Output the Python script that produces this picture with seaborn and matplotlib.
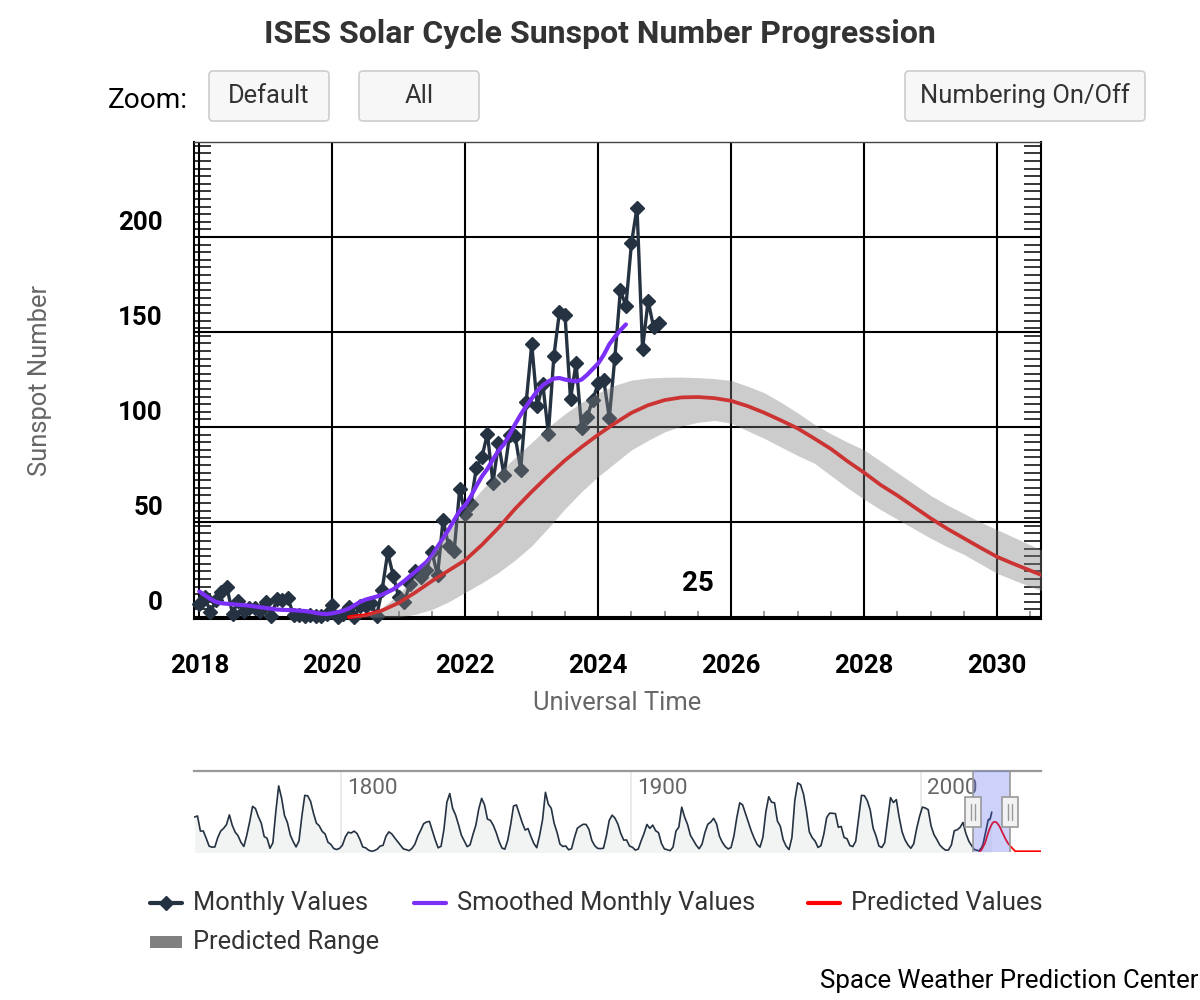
"""ISES Solar Cycle Sunspot Number Progression (SWPC 風のチャート)."""

import matplotlib

matplotlib.use("Agg")

import matplotlib.pyplot as plt
import numpy as np
import pandas as pd
import seaborn as sns
from matplotlib.patches import FancyBboxPatch, Rectangle
from matplotlib.ticker import MultipleLocator

# 月平均黒点数 2018-01 .. 2024-12
monthly_values = [
    6.8, 10.7, 2.5, 8.9, 13.1, 15.6, 1.6, 8.7, 3.3, 4.9, 4.9, 3.1,
    7.7, 0.8, 9.4, 9.1, 9.9, 1.2, 0.9, 0.5, 1.1, 0.4, 0.5, 1.5,
    6.2, 0.2, 1.5, 5.2, 0.2, 5.8, 6.1, 7.5, 0.6, 14.4, 34.0, 21.8,
    10.4, 8.2, 17.2, 24.5, 21.2, 25.0, 34.3, 22.0, 51.3, 37.4, 34.8, 67.5,
    54.0, 59.7, 78.5, 84.1, 96.5, 70.5, 91.4, 74.6, 96.0, 95.5, 77.6, 113.1,
    143.6, 110.9, 122.6, 96.4, 137.4, 160.5, 159.1, 114.8, 133.6, 99.4, 105.4, 114.2,
    123.0, 124.7, 104.9, 136.5, 172.0, 163.6, 196.8, 215.5, 141.1, 166.4, 152.5, 154.5,
]

# 13ヶ月平滑値 2018-01 .. 2024-06
smoothed_values = [
    13.5, 11.5, 9.5, 8.0, 7.3, 7.0, 6.8, 6.5, 6.3, 6.0, 5.6, 5.2,
    4.8, 4.4, 4.0, 3.8, 3.7, 3.6, 3.4, 3.2, 2.8, 2.2, 1.8, 1.6,
    2.0, 2.6, 3.4, 4.5, 6.2, 8.0, 9.2, 10.0, 10.8, 11.8, 13.2, 14.6,
    16.8, 19.0, 21.5, 23.9, 26.5, 29.0, 32.5, 37.0, 41.5, 46.0, 51.0, 56.0,
    59.0, 63.5, 69.0, 74.0, 78.0, 83.0, 87.5, 91.0, 96.0, 101.5, 106.5, 111.0,
    115.0, 119.0, 122.0, 124.0, 125.5, 125.8, 125.0, 124.5, 124.0, 125.0, 127.5, 130.5,
    133.5, 138.0, 143.5, 147.5, 151.0, 154.0,
]

# 予測値と予測レンジ（四半期ごと 2020-04 .. 2030-10）
predicted_values = [
    0.0, 1.0, 3.5,
    7.5, 13.0, 19.0, 24.5,
    30.0, 38.0, 47.0, 57.0,
    66.0, 74.5, 82.5, 89.5,
    96.0, 102.0, 107.5, 111.5,
    114.2, 115.6, 115.8, 115.2,
    113.8, 111.0, 107.5, 103.5,
    99.3, 94.0, 88.5, 82.0,
    76.0, 69.5, 64.0, 58.0,
    52.0, 46.5, 41.5, 36.5,
    31.7, 28.0, 24.5, 21.0,
]
predicted_high = [
    0.5, 1.5, 5.0,
    12.0, 22.0, 33.0, 45.0,
    57.0, 67.0, 76.0, 84.0,
    92.0, 100.0, 107.0, 113.0,
    118.0, 122.0, 124.7, 125.8,
    126.2, 126.3, 126.0, 125.5,
    124.5, 121.5, 118.0, 113.0,
    107.5, 101.5, 96.5, 92.0,
    88.0, 82.0, 76.0, 70.0,
    64.0, 59.0, 54.5, 50.0,
    46.0, 42.0, 38.0, 34.0,
]
predicted_low = [
    0.0, 0.0, 0.0,
    0.0, 1.5, 4.0, 8.0,
    13.0, 18.0, 23.5, 30.0,
    37.5, 47.0, 57.0, 66.0,
    74.0, 81.0, 88.0, 93.0,
    97.5, 100.5, 102.5, 103.5,
    102.0, 98.0, 94.0, 89.5,
    85.0, 81.0, 74.5, 68.0,
    62.0, 56.5, 51.5, 46.5,
    41.5, 37.0, 33.0, 28.0,
    23.0, 19.5, 16.0, 13.0,
]

# ナビゲーター用の年平均黒点数 1749 .. 2017
history_yearly = [
    134.7, 139.0, 79.5, 79.7, 51.2, 20.3, 16.0, 17.0, 54.0, 79.3,
    90.0, 104.8, 143.2, 102.0, 75.2, 60.7, 34.8, 19.0, 63.0, 116.3,
    176.8, 168.0, 136.0, 110.8, 58.0, 51.0, 11.7, 33.0, 154.2, 257.3,
    209.8, 141.3, 113.5, 64.2, 38.0, 17.0, 40.2, 138.2, 220.0, 218.2,
    196.8, 149.8, 111.0, 100.0, 78.2, 68.3, 35.5, 26.7, 10.7, 6.8,
    11.3, 24.2, 56.7, 75.0, 71.8, 79.2, 70.3, 46.8, 16.8, 13.5,
    4.2, 0.0, 2.3, 8.3, 20.3, 23.2, 59.0, 76.3, 68.3, 52.9,
    38.5, 24.2, 9.2, 6.3, 2.2, 11.4, 28.2, 59.9, 83.0, 108.5,
    115.2, 117.4, 80.8, 44.3, 13.4, 19.5, 85.8, 192.7, 227.3, 168.7,
    143.0, 105.5, 63.3, 40.3, 18.1, 25.1, 65.8, 102.7, 166.3, 208.3,
    182.5, 126.3, 122.0, 102.7, 74.1, 39.0, 12.7, 8.2, 43.4, 104.4,
    178.3, 182.2, 146.6, 112.1, 83.5, 89.2, 57.8, 30.7, 13.9, 62.8,
    123.6, 232.0, 185.3, 169.2, 110.1, 74.5, 28.3, 18.9, 20.7, 5.7,
    10.0, 53.7, 90.5, 99.0, 106.1, 105.8, 86.3, 42.4, 21.8, 11.2,
    10.4, 11.8, 59.5, 121.7, 142.0, 130.0, 106.6, 69.4, 43.8, 44.4,
    20.2, 15.7, 4.6, 8.5, 40.8, 70.1, 105.5, 90.1, 102.8, 80.9,
    73.2, 30.9, 9.5, 6.0, 2.4, 16.1, 79.0, 95.0, 173.6, 134.6,
    105.7, 62.7, 43.5, 23.7, 9.7, 27.9, 74.0, 106.5, 114.7, 129.7,
    108.2, 59.4, 35.1, 18.6, 9.2, 14.6, 60.2, 132.8, 190.6, 182.6,
    148.0, 113.0, 79.2, 50.8, 27.1, 16.1, 55.3, 154.3, 214.7, 193.0,
    190.7, 118.9, 98.3, 45.0, 20.1, 6.6, 54.2, 200.7, 269.3, 261.7,
    225.1, 159.0, 76.4, 53.4, 39.9, 15.0, 22.0, 66.8, 132.9, 150.0,
    149.4, 148.0, 94.4, 97.6, 54.1, 49.2, 22.5, 18.4, 39.3, 131.0,
    220.1, 218.9, 198.9, 162.4, 91.0, 60.5, 20.6, 14.8, 33.9, 123.0,
    211.1, 191.8, 203.3, 133.0, 76.1, 44.9, 25.1, 11.6, 28.9, 88.3,
    136.3, 173.9, 170.4, 163.6, 99.3, 65.3, 45.8, 24.7, 12.6, 4.2,
    4.8, 24.9, 80.8, 84.5, 94.0, 113.3, 69.8, 39.8, 21.7,
]
# ナビゲーター右端の予測の続き（ほぼゼロ）
nav_tail_years = [2032.5, 2041.5]
nav_tail_values = [0.0, 0.0]

x_ticks = [2018, 2020, 2022, 2024, 2026, 2028, 2030]
y_ticks = [0, 50, 100, 150, 200]
nav_labels = [1800, 1900, 2000]
x_range = (2017.92, 2030.66)

DARK = "#253241"
PURPLE = "#7b2ff7"
RED = "#ff0000"
RANGE = "#808080"
TEXT = "#333333"
W, H = 1200, 1000
FS = 18.4  # 本文テキストのサイズ


def decimal_year(dates):
    return dates.year + (dates.month - 1) / 12


def box(left, top, right, bottom):
    """ピクセル座標 -> figure 座標の [l, b, w, h]."""
    return [left / W, 1 - bottom / H, (right - left) / W, (bottom - top) / H]


df_monthly = pd.DataFrame({
    "year": decimal_year(pd.date_range("2018-01-01", periods=len(monthly_values), freq="MS")),
    "ssn": monthly_values,
})
df_smoothed = pd.DataFrame({
    "year": decimal_year(pd.date_range("2018-01-01", periods=len(smoothed_values), freq="MS")),
    "ssn": smoothed_values,
})
df_pred = pd.DataFrame({
    "year": decimal_year(pd.date_range("2020-04-01", periods=len(predicted_values), freq="QS")),
    "ssn": predicted_values,
    "high": predicted_high,
    "low": predicted_low,
})

sns.set_theme(style="white")
plt.rcParams["font.family"] = ["Roboto", "DejaVu Sans"]

fig = plt.figure(figsize=(12, 10), dpi=100)

# ---- メインのプロット ----
ax = fig.add_axes(box(194, 142, 1041, 619))
sns.lineplot(data=df_monthly, x="year", y="ssn", ax=ax, color=DARK, linewidth=2.4,
             marker="D", markersize=7.4, markeredgewidth=1, markeredgecolor=DARK,
             clip_on=False, zorder=3)
sns.lineplot(data=df_smoothed, x="year", y="ssn", ax=ax, color=PURPLE, linewidth=3.0, zorder=4)
sns.lineplot(data=df_pred, x="year", y="ssn", ax=ax, color=RED, linewidth=2.7, zorder=4)
ax.fill_between(df_pred["year"], df_pred["low"], df_pred["high"],
                color=RANGE, alpha=0.4, linewidth=0, zorder=6)
ax.text(2025.5, 17.5, "25", ha="center", va="center", fontsize=20,
        fontweight="bold", color="black", zorder=7)

ax.set_xlim(*x_range)
ax.set_ylim(-1, 250)
ax.set_xticks(x_ticks)
ax.set_xticklabels([str(t) for t in x_ticks], fontsize=18.6, fontweight="bold", color="black")
ax.xaxis.set_minor_locator(MultipleLocator(0.5))
ax.set_yticks(y_ticks)
ax.set_yticklabels([])
ax.yaxis.set_minor_locator(MultipleLocator(4))
ax.grid(True, which="major", color="black", linewidth=1.5)
ax.tick_params(axis="x", which="major", length=0, pad=25)
ax.tick_params(axis="x", which="minor", bottom=True, top=False, direction="in",
               length=5.5, width=1.4, color="#999999")
ax.tick_params(axis="y", which="major", length=0)
ax.tick_params(axis="y", which="minor", left=True, right=True, direction="in",
               length=12.5, width=1.1, color="black")
ax.set_xlabel("")
ax.set_ylabel("")
for name, spine in ax.spines.items():
    spine.set_visible(True)
    spine.set_color("#444444" if name == "top" else "black")
    spine.set_linewidth(1.0 if name == "top" else 1.5)
for v in y_ticks:
    ax.annotate(str(v), xy=(0, v), xycoords=("axes fraction", "data"),
                xytext=(-31, 14), textcoords="offset pixels", ha="right", va="center",
                fontsize=18.6, fontweight="bold", color="black")

# ---- ナビゲーター ----
nav = fig.add_axes(box(194, 771, 1041, 852))
nav_x = np.concatenate([np.arange(len(history_yearly)) + 1749.5, df_smoothed["year"]])
nav_y = np.concatenate([history_yearly, smoothed_values])
nav.fill_between(nav_x, nav_y, -10, color="#f2f4f4", linewidth=0, zorder=1)
nav.plot(nav_x, nav_y, color=DARK, linewidth=1.2, zorder=2)
nav.plot(np.concatenate([df_pred["year"], nav_tail_years]),
         np.concatenate([predicted_values, nav_tail_values]),
         color=RED, linewidth=1.3, zorder=2)
nav.set_xlim(1749.3, 2041.4)
nav.set_ylim(-3, 316)
nav.set_xticks([])
nav.set_yticks([])
for name, spine in nav.spines.items():
    spine.set_visible(name == "top")
nav.spines["top"].set_color("#999999")
nav.spines["top"].set_linewidth(1.6)
for yr in nav_labels:
    nav.axvline(yr, color="#e6e6e6", linewidth=1.2, zorder=0)
    nav.annotate(str(yr), xy=(yr, 1), xycoords=("data", "axes fraction"),
                 xytext=(6, -7), textcoords="offset pixels", ha="left", va="top",
                 fontsize=16.2, color="#666666")
nav.axvspan(*x_range, color="#5060f0", alpha=0.28, linewidth=0, zorder=4)
for edge in x_range:
    nav.axvline(edge, color="#999999", linewidth=1.2, zorder=5)

# ---- タイトル・ボタン・凡例などの装飾 ----
ov = fig.add_axes([0, 0, 1, 1])
ov.set_xlim(0, W)
ov.set_ylim(H, 0)
ov.axis("off")

ov.text(600, 34, "ISES Solar Cycle Sunspot Number Progression", ha="center", va="center",
        fontsize=23, fontweight="bold", color=TEXT)
ov.text(108, 100, "Zoom:", ha="left", va="center", fontsize=20.2, color="black")
for left, width, label in [(209, 120, "Default"), (359, 120, "All"), (905, 240, "Numbering On/Off")]:
    ov.add_patch(FancyBboxPatch((left, 71), width, 50, boxstyle="round,pad=0,rounding_size=4",
                                facecolor="#f7f7f7", edgecolor="#cccccc", linewidth=1.2))
    ov.text(left + width / 2, 96, label, ha="center", va="center", fontsize=FS, color=TEXT)

ov.text(40, 380, "Sunspot Number", ha="center", va="center", rotation=90,
        fontsize=FS, color="#666666")
ov.text(617, 703, "Universal Time", ha="center", va="center", fontsize=FS, color="#666666")

for edge in x_range:
    px = nav.transData.transform((edge, 0))[0]
    ov.add_patch(Rectangle((px - 8, 797), 16, 30, facecolor="#f2f2f2",
                           edgecolor="#999999", linewidth=1.2, zorder=5))
    for dx in (-2, 2):
        ov.plot([px + dx, px + dx], [804, 820], color="#999999", linewidth=1, zorder=6)

# 凡例
ov.plot([150, 182], [903, 903], color=DARK, linewidth=3)
ov.plot([166], [903], marker="D", markersize=7.5, color=DARK)
ov.text(193, 903, "Monthly Values", ha="left", va="center", fontsize=FS, color=TEXT)
ov.plot([414, 446], [903, 903], color=PURPLE, linewidth=3)
ov.text(457, 903, "Smoothed Monthly Values", ha="left", va="center", fontsize=FS, color=TEXT)
ov.plot([808, 840], [903, 903], color=RED, linewidth=3)
ov.text(851, 903, "Predicted Values", ha="left", va="center", fontsize=FS, color=TEXT)
ov.add_patch(Rectangle((150, 936), 32, 12, facecolor=RANGE, edgecolor="none"))
ov.text(193, 942, "Predicted Range", ha="left", va="center", fontsize=FS, color=TEXT)

ov.text(1198, 981, "Space Weather Prediction Center", ha="right", va="center",
        fontsize=18.6, color="black")

fig.savefig("out.png", dpi=100)
